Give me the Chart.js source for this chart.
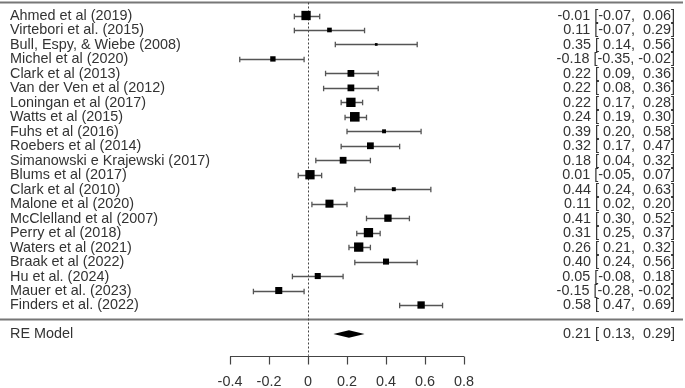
<!DOCTYPE html>
<html>
<head>
<meta charset="utf-8">
<script src="https://cdn.jsdelivr.net/npm/chart.js@4/dist/chart.umd.min.js"></script>
<style>
  body { margin: 0; background: #fff; }
  #wrap { width: 685px; height: 388px; }
</style>
</head>
<body>
<div id="wrap"><canvas id="forest"></canvas></div>
<script>
// estudios (de arriba a abajo)
const estudios = [
  'Ahmed et al (2019)', 'Virtebori et al. (2015)', 'Bull, Espy, & Wiebe (2008)',
  'Michel et al (2020)', 'Clark et al (2013)', 'Van der Ven et al (2012)',
  'Loningan et al (2017)', 'Watts et al (2015)', 'Fuhs et al (2016)',
  'Roebers et al (2014)', 'Simanowski e Krajewski (2017)', 'Blums et al (2017)',
  'Clark et al (2010)', 'Malone et al (2020)', 'McClelland et al (2007)',
  'Perry et al (2018)', 'Waters et al (2021)', 'Braak et al (2022)',
  'Hu et al. (2024)', 'Mauer et al. (2023)', 'Finders et al. (2022)'
];
const efecto = [-0.01, 0.11, 0.35, -0.18, 0.22, 0.22, 0.22, 0.24, 0.39, 0.32, 0.18, 0.01, 0.44, 0.11, 0.41, 0.31, 0.26, 0.40, 0.05, -0.15, 0.58];
const icInf  = [-0.07, -0.07, 0.14, -0.35, 0.09, 0.08, 0.17, 0.19, 0.20, 0.17, 0.04, -0.05, 0.24, 0.02, 0.30, 0.25, 0.21, 0.24, -0.08, -0.28, 0.47];
const icSup  = [0.06, 0.29, 0.56, -0.02, 0.36, 0.36, 0.28, 0.30, 0.58, 0.47, 0.32, 0.07, 0.63, 0.20, 0.52, 0.37, 0.32, 0.56, 0.18, -0.02, 0.69];
// pesos aproximados (%), solo para el tamaño del cuadrado
const pesos  = [6.6, 3.3, 1.9, 3.8, 4.8, 4.8, 6.6, 6.8, 2.8, 4.8, 4.8, 6.6, 2.8, 5.7, 5.2, 6.6, 6.6, 4.3, 4.3, 5.0, 5.2];
// modelo RE
const reModelo = { nombre: 'RE Model', est: 0.21, inf: 0.13, sup: 0.29 };
const ticksX = [-0.4, -0.2, 0, 0.2, 0.4, 0.6, 0.8];

const FUENTE = '14.4px "Liberation Sans", Arial, sans-serif';
const FILA_SEP = 21, FILA_RE = 22, FILA_EJE = 23.5;

function fmt(v) {
  const s = v.toFixed(2);
  return v < 0 ? s : ' ' + s;
}
function textoIC(est, inf, sup) {
  return fmt(est).trim() + ' [' + fmt(inf) + ', ' + fmt(sup) + ']';
}

const puntos = efecto.map((v, i) => ({ x: v, y: i }));

const forestPlugin = {
  id: 'forestPlugin',
  beforeDatasetsDraw(chart) {
    const ctx = chart.ctx;
    const xs = chart.scales.x, ys = chart.scales.y;
    const px = v => xs.getPixelForValue(v);
    const py = v => ys.getPixelForValue(v);
    ctx.save();

    // linea superior y separador
    ctx.strokeStyle = '#777';
    ctx.lineWidth = 1.8;
    [-0.95, FILA_SEP].forEach(f => {
      ctx.beginPath();
      ctx.moveTo(0, Math.round(py(f)) + 0.5);
      ctx.lineTo(683, Math.round(py(f)) + 0.5);
      ctx.stroke();
    });

    // linea de referencia en 0
    ctx.strokeStyle = '#444';
    ctx.lineWidth = 1;
    ctx.setLineDash([2, 2]);
    ctx.beginPath();
    ctx.moveTo(Math.round(px(0)) + 0.5, py(-0.9));
    ctx.lineTo(Math.round(px(0)) + 0.5, py(FILA_EJE));
    ctx.stroke();
    ctx.setLineDash([]);

    // intervalos de confianza
    ctx.strokeStyle = '#555';
    ctx.lineWidth = 1.3;
    efecto.forEach((v, i) => {
      const y = Math.round(py(i)) + 0.5;
      const a = px(icInf[i]), b = px(icSup[i]);
      ctx.beginPath();
      ctx.moveTo(a, y); ctx.lineTo(b, y);
      ctx.moveTo(a, y - 2.7); ctx.lineTo(a, y + 2.7);
      ctx.moveTo(b, y - 2.7); ctx.lineTo(b, y + 2.7);
      ctx.stroke();
    });

    // diamante RE
    ctx.fillStyle = '#000';
    ctx.beginPath();
    ctx.moveTo(px(reModelo.inf), py(FILA_RE));
    ctx.lineTo(px(reModelo.est), py(FILA_RE - 0.26));
    ctx.lineTo(px(reModelo.sup), py(FILA_RE));
    ctx.lineTo(px(reModelo.est), py(FILA_RE + 0.26));
    ctx.closePath();
    ctx.fill();

    // eje x
    const yEje = Math.round(py(FILA_EJE)) + 0.5;
    ctx.strokeStyle = '#444';
    ctx.lineWidth = 1.2;
    ctx.beginPath();
    ctx.moveTo(px(ticksX[0]), yEje);
    ctx.lineTo(px(ticksX[ticksX.length - 1]), yEje);
    ticksX.forEach(t => {
      ctx.moveTo(Math.round(px(t)) + 0.5, yEje);
      ctx.lineTo(Math.round(px(t)) + 0.5, yEje + 8);
    });
    ctx.stroke();

    // textos
    ctx.font = FUENTE;
    ctx.fillStyle = '#333';
    ctx.textBaseline = 'middle';
    ctx.textAlign = 'center';
    ticksX.forEach(t => ctx.fillText(String(t), px(t), py(25.3)));

    ctx.textAlign = 'left';
    estudios.forEach((n, i) => ctx.fillText(n, 10, py(i) + 0.5));
    ctx.fillText(reModelo.nombre, 10, py(FILA_RE));

    ctx.textAlign = 'right';
    efecto.forEach((v, i) => ctx.fillText(textoIC(v, icInf[i], icSup[i]), 675, py(i) + 0.5));
    ctx.fillText(textoIC(reModelo.est, reModelo.inf, reModelo.sup), 675, py(FILA_RE));

    ctx.restore();
  }
};

new Chart(document.getElementById('forest'), {
  type: 'scatter',
  data: {
    datasets: [{
      data: puntos,
      pointStyle: 'rect',
      pointRadius: pesos.map(w => w * 1.41 / 2 / Math.SQRT1_2),
      pointBackgroundColor: '#000',
      pointBorderColor: '#000',
      pointBorderWidth: 0,
      clip: false
    }]
  },
  options: {
    responsive: true,
    maintainAspectRatio: false,
    animation: false,
    layout: { padding: 0, autoPadding: false },
    plugins: { legend: { display: false }, tooltip: { enabled: false } },
    scales: {
      x: { type: 'linear', display: false, min: -1.5795, max: 1.9333 },
      y: { type: 'linear', display: false, reverse: true, min: -1.071, max: 25.734 }
    }
  },
  plugins: [forestPlugin]
});
</script>
</body>
</html>
